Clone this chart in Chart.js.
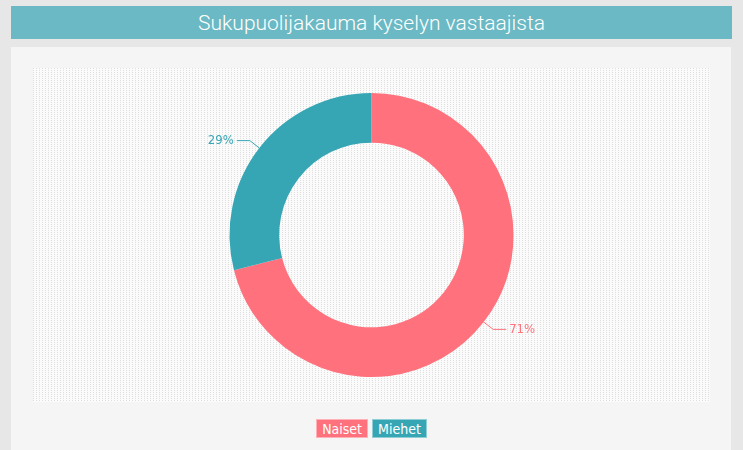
<!DOCTYPE html>
<html>
<head>
<meta charset="utf-8">
<script src="https://cdn.jsdelivr.net/npm/chart.js@4"></script>
<style>
  body { margin: 0; width: 743px; height: 450px; overflow: hidden; background: #e7e7e7; position: relative; font-family: Roboto, sans-serif; }
  #title { position: absolute; left: 11px; top: 6px; width: 721px; height: 33px; background: #6bb9c4; color: #fff;
           font-family: Roboto, sans-serif; font-weight: 300; font-size: 21px; line-height: 34px; text-align: center; }
  #panel { position: absolute; left: 11px; top: 47px; width: 720px; height: 410px; background: #f5f5f5; }
  #plot { position: absolute; left: 33px; top: 68px; width: 677px; height: 334px; background-color: #fbfbfb;
          background-image: linear-gradient(0deg, #fbfbfb 50%, transparent 50%), linear-gradient(90deg, #dedede 1px, #fbfbfb 1px);
          background-size: 3px 2px; }
  #legend { position: absolute; left: 0; top: 419px; width: 743px; display: flex; justify-content: center; gap: 4px; }
  #legend span { display: inline-block; height: 19px; line-height: 18px; padding: 0 5px; color: #fff; box-sizing: border-box;
                 font-family: "Liberation Sans Narrow", "DejaVu Sans Condensed", sans-serif; font-size: 14px; }
</style>
</head>
<body>
<div id="title">Sukupuolijakauma kyselyn vastaajista</div>
<div id="panel"></div>
<div id="plot"><canvas id="myChart"></canvas></div>
<div id="legend"></div>
<script>
const genders = ['Naiset', 'Miehet'];
const shares = [71, 29];
const colours = ['#ff727d', '#36a6b5'];

// leader lines with percentage labels next to each slice
const leaderLabels = {
  id: 'leaderLabels',
  afterDatasetsDraw(chart) {
    const ctx = chart.ctx;
    const meta = chart.getDatasetMeta(0);
    ctx.save();
    ctx.lineWidth = 1;
    ctx.font = '13px "Liberation Sans Narrow", "DejaVu Sans Condensed", sans-serif';
    ctx.textBaseline = 'middle';
    meta.data.forEach((arc, i) => {
      const p = arc.getProps(['x', 'y', 'startAngle', 'endAngle', 'outerRadius'], true);
      const mid = (p.startAngle + p.endAngle) / 2;
      const cos = Math.cos(mid), sin = Math.sin(mid);
      const side = cos >= 0 ? 1 : -1;
      const x0 = p.x + cos * p.outerRadius, y0 = p.y + sin * p.outerRadius;
      const x1 = p.x + cos * (p.outerRadius + 12), y1 = p.y + sin * (p.outerRadius + 12);
      const x2 = x1 + side * 13;
      ctx.strokeStyle = colours[i];
      ctx.fillStyle = colours[i];
      ctx.beginPath();
      ctx.moveTo(x0, y0);
      ctx.lineTo(x1, y1);
      ctx.lineTo(x2, y1);
      ctx.stroke();
      ctx.textAlign = side > 0 ? 'left' : 'right';
      ctx.fillText(shares[i] + '%', x2 + side * 3, y1);
    });
    ctx.restore();
  }
};

let ctx = document.getElementById('myChart').getContext('2d');
let chart = new Chart(ctx, {
  type: 'doughnut',
  data: {
    labels: genders,
    datasets: [{
      data: shares,
      backgroundColor: colours,
      borderWidth: 0
    }]
  },
  options: {
    responsive: true,
    maintainAspectRatio: false,
    animation: false,
    cutout: '65%',
    layout: { padding: 25 },
    plugins: {
      legend: { display: false },
      tooltip: { enabled: false }
    }
  },
  plugins: [leaderLabels]
});

let legend = document.getElementById('legend');
genders.forEach((g, i) => {
  let item = document.createElement('span');
  item.textContent = g;
  item.style.background = colours[i];
  item.style.border = '1px solid rgba(255,255,255,0.45)';
  legend.appendChild(item);
});
</script>
</body>
</html>
